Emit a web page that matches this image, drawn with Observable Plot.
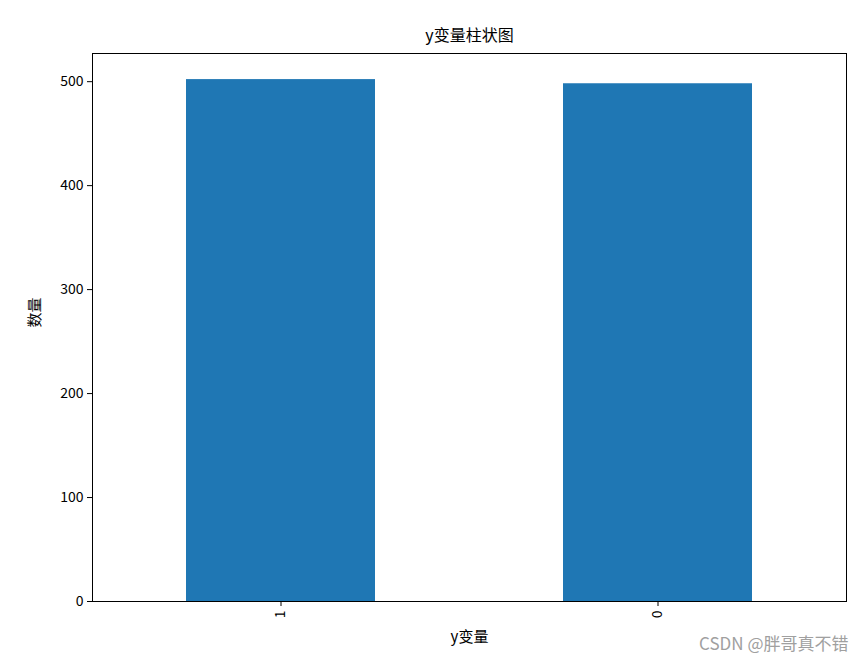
<!DOCTYPE html>
<html>
<head>
<meta charset="utf-8">
<script src="https://cdn.jsdelivr.net/npm/d3@7"></script>
<script src="https://cdn.jsdelivr.net/npm/@observablehq/plot@0.6"></script>
<style>
  body { margin: 0; background: #fff; }
  svg { font-family: "Noto Sans CJK SC", "DejaVu Sans", sans-serif; }
</style>
</head>
<body>
<div id="chart"></div>
<script>
const categories = ["1", "0"];
const counts = [502, 498];
const yTicks = [0, 100, 200, 300, 400, 500];
const titleText = "y变量柱状图";
const xLabel = "y变量";
const yLabel = "数量";
const watermark = "CSDN @胖哥真不错";

const data = categories.map((c, i) => ({cat: c, n: counts[i]}));
const font = "Noto Sans CJK SC";

const chart = Plot.plot({
  width: 865,
  height: 667,
  marginLeft: 92,
  marginRight: 19,
  marginTop: 53,
  marginBottom: 66,
  style: {fontFamily: font, fontSize: "14px", background: "#fff", color: "#000"},
  x: {domain: categories, paddingInner: 0.5, paddingOuter: 0.25, label: null},
  y: {domain: [0, 527.1], label: null},
  marks: [
    Plot.barY(data, {x: "cat", y: "n", fill: "#1f77b4"}),
    Plot.frame({stroke: "#000", strokeWidth: 1}),
    Plot.axisY({ticks: yTicks, tickSize: 5, tickPadding: 4, fontSize: 14, label: null, stroke: "#000"}),
    Plot.axisX({tickSize: 5, tickPadding: 4, tickRotate: -90, fontSize: 14, label: null, stroke: "#000"}),
    Plot.text([titleText], {frameAnchor: "top", dy: -24, fontSize: 16, fill: "#000", text: d => d}),
    Plot.text([xLabel], {frameAnchor: "bottom", dy: 40, fontSize: 15, fill: "#000", text: d => d}),
    Plot.text([yLabel], {frameAnchor: "left", dx: -57, rotate: -90, fontSize: 15, fill: "#000", text: d => d}),
    Plot.text([watermark], {frameAnchor: "bottom-right", dx: 2, dy: 48, textAnchor: "end", fontSize: 17, fill: "#a0a0a0", text: d => d})
  ]
});
document.getElementById("chart").appendChild(chart);
</script>
</body>
</html>
